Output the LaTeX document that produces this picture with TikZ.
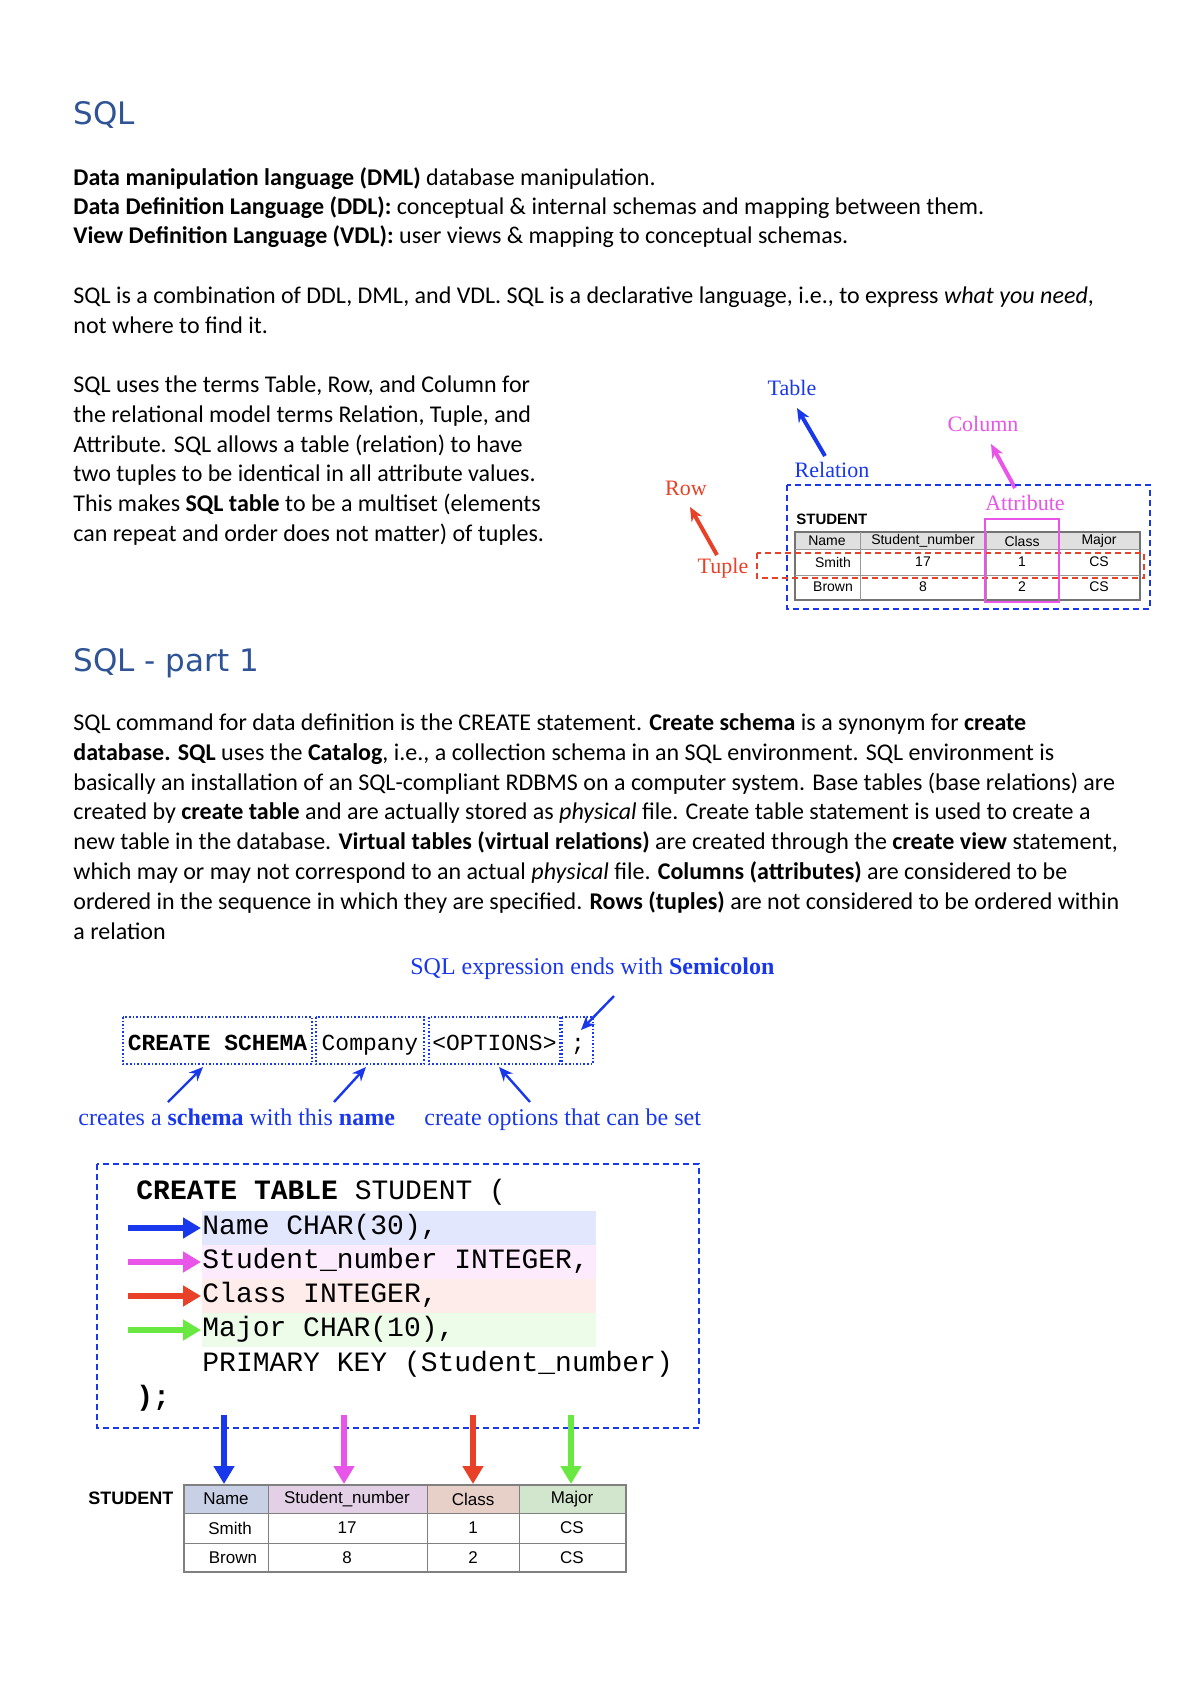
\documentclass[tikz,border=0pt]{standalone}
\usepackage{fontspec}
\setmainfont{Carlito}
\newfontfamily\headf{DejaVu Sans}
\newfontfamily\serf{Liberation Serif}
\newfontfamily\codef{Liberation Mono}
\newfontfamily\tabf{Liberation Sans}
\usetikzlibrary{arrows.meta}
\definecolor{hblue}{RGB}{46,84,150}
\definecolor{ab}{RGB}{25,55,235}
\definecolor{am}{RGB}{232,85,232}
\definecolor{ar}{RGB}{232,65,40}
\definecolor{ag}{RGB}{105,232,65}
\definecolor{hb}{RGB}{200,208,230}
\definecolor{hm}{RGB}{228,208,230}
\definecolor{hr}{RGB}{230,208,200}
\definecolor{hg}{RGB}{210,230,206}
\tikzset{
 txt/.style={anchor=base west,inner sep=0pt,font=\fontsize{12}{14}\selectfont},
 head/.style={anchor=base west,inner sep=0pt,font=\headf\fontsize{15.5}{18}\selectfont,text=hblue},
 lab/.style={inner sep=0pt,font=\serf\fontsize{11}{13}\selectfont},
 clab/.style={anchor=base west,inner sep=0pt,font=\serf\fontsize{12}{14}\selectfont,text=ab},
 thin arrow/.style={-{Stealth[length=7pt,width=6pt]},line width=1.2pt},
 fat arrow/.style={-{Triangle[length=9pt,width=10pt]},line width=3pt},
 cell/.style={inner sep=0pt,font=\tabf\fontsize{7}{8}\selectfont},
 cellb/.style={inner sep=0pt,font=\tabf\fontsize{8.5}{10}\selectfont},
 code/.style={anchor=base west,inner sep=0pt,font=\codef\fontsize{14}{16}\selectfont},
 scode/.style={anchor=base,inner sep=0pt,font=\codef\fontsize{11.5}{13}\selectfont},
 dbox/.style={draw=ab,densely dotted,line width=0.8pt},
}
\begin{document}
\begin{tikzpicture}[x=0.5pt,y=-0.5pt]
\useasboundingbox[fill=white] (0,0) rectangle (1200,1698);
% header section
\node[head] (h1) at (73,124) {SQL};
\node[txt] (l1) at (73,185) {\textbf{Data manipulation language (DML)} database manipulation.};
\node[txt] (l2) at (73,214) {\textbf{Data Definition Language (DDL):} conceptual \& internal schemas and mapping between them.};
\node[txt] (l3) at (73,243) {\textbf{View Definition Language (VDL):} user views \& mapping to conceptual schemas.};
\node[txt] (l4) at (73,303) {SQL is a combination of DDL, DML, and VDL. SQL is a declarative language, i.e., to express \textit{what you need},};
\node[txt] (l5) at (73,333) {not where to find it.};
\node[txt] (p1) at (73,392) {SQL uses the terms Table, Row, and Column for};
\node[txt] (p2) at (73,422) {the relational model terms Relation, Tuple, and};
\node[txt] (p3) at (73,452) {Attribute. SQL allows a table (relation) to have};
\node[txt] (p4) at (73,481) {two tuples to be identical in all attribute values.};
\node[txt] (p5) at (73,511) {This makes \textbf{SQL table} to be a multiset (elements};
\node[txt] (p6) at (73,541) {can repeat and order does not matter) of tuples.};
% right figure
\node[lab,text=ab] (tTable) at (792,388) {Table};
\node[lab,text=ab] (tRel) at (832,470) {Relation};
\node[lab,text=am] (tCol) at (983,424) {Column};
\node[lab,text=am] (tAttr) at (1025,503) {Attribute};
\node[lab,text=ar] (tRow) at (686,488) {Row};
\node[lab,text=ar] (tTup) at (723,568) {Tuple};
\coordinate (aT1) at (825,456); \coordinate (aT2) at (797,408);
\coordinate (aC1) at (1015,488); \coordinate (aC2) at (991,444);
\coordinate (aR1) at (717,555); \coordinate (aR2) at (690,507);
\draw[thin arrow,ab,line width=2pt] (aT1) -- (aT2);
\draw[thin arrow,am,line width=2pt] (aC1) -- (aC2);
\draw[thin arrow,ar,line width=2pt] (aR1) -- (aR2);
\draw[draw=ab,densely dashed,line width=1pt] (787,485) rectangle (1150,609);
\node[cellb,anchor=west,font=\tabf\bfseries\fontsize{7.5}{9}\selectfont] (st1) at (796,519) {STUDENT};
\fill[black!12] (795,532) rectangle (1140,549);
\draw[black!55,line width=0.8pt] (795,532) rectangle (1140,600);
\foreach \y in {549,575} \draw[black!40] (795,\y) -- (1140,\y);
\foreach \x in {860,986,1058} \draw[black!40] (\x,532) -- (\x,600);
\node[cell] at (827,541) {Name}; \node[cell] at (923,541) {Student\_number};
\node[cell] at (1022,541) {Class}; \node[cell] at (1099,541) {Major};
\node[cell] at (833,562) {Smith}; \node[cell] at (923,562) {17};
\node[cell] at (1022,562) {1}; \node[cell] at (1099,562) {CS};
\node[cell] at (833,587) {Brown}; \node[cell] at (923,587) {8};
\node[cell] at (1022,587) {2}; \node[cell] at (1099,587) {CS};
\draw[ar,densely dashed,line width=1pt] (757,553) rectangle (1144,578);
\draw[am,line width=1pt] (985,519) rectangle (1059,602);
% part 1
\node[head] (h2) at (73,671) {SQL - part 1};
\node[txt] (q1) at (73,730) {SQL command for data definition is the CREATE statement. \textbf{Create schema} is a synonym for \textbf{create}};
\node[txt] (q2) at (73,760) {\textbf{database. SQL} uses the \textbf{Catalog}, i.e., a collection schema in an SQL environment. SQL environment is};
\node[txt] (q3) at (73,790) {basically an installation of an SQL-compliant RDBMS on a computer system. Base tables (base relations) are};
\node[txt] (q4) at (73,819) {created by \textbf{create table} and are actually stored as \textit{physical} file. Create table statement is used to create a};
\node[txt] (q5) at (73,849) {new table in the database. \textbf{Virtual tables (virtual relations)} are created through the \textbf{create view} statement,};
\node[txt] (q6) at (73,879) {which may or may not correspond to an actual \textit{physical} file. \textbf{Columns (attributes)} are considered to be};
\node[txt] (q7) at (73,909) {ordered in the sequence in which they are specified. \textbf{Rows (tuples)} are not considered to be ordered within};
\node[txt] (q8) at (73,939) {a relation};
% create schema
\node[clab] (semi) at (410,974) {SQL expression ends with \textbf{Semicolon}};
\draw[dbox] (123,1017) rectangle (312,1064);
\draw[dbox] (316,1017) rectangle (424,1064);
\draw[dbox] (429,1017) rectangle (560,1064);
\draw[dbox] (562,1017) rectangle (593,1064);
\node[scode] (c1) at (217.5,1050) {\textbf{CREATE SCHEMA}};
\node[scode] (c2) at (370,1050) {Company};
\node[scode] (c3) at (494.5,1050) {<OPTIONS>};
\node[scode] (c4) at (578,1050) {;};
\coordinate (s1) at (614,996); \coordinate (s2) at (581,1030);
\draw[thin arrow,ab] (s1) -- (s2);
\coordinate (b1) at (168,1102); \coordinate (b2) at (203,1067);
\coordinate (b3) at (334,1102); \coordinate (b4) at (366,1067);
\coordinate (b5) at (530,1102); \coordinate (b6) at (499,1067);
\draw[thin arrow,ab] (b1) -- (b2);
\draw[thin arrow,ab] (b3) -- (b4);
\draw[thin arrow,ab] (b5) -- (b6);
\node[clab] (e1) at (78,1125) {creates a \textbf{schema} with this \textbf{name}};
\node[clab] (e2) at (424,1125) {create options that can be set};
% create table
\draw[draw=ab,densely dashed,line width=1.2pt] (97,1164) rectangle (699,1428);
\fill[ab!12] (202,1211) rectangle (596,1245);
\fill[am!12] (202,1245) rectangle (596,1279);
\fill[ar!10] (202,1279) rectangle (596,1313);
\fill[ag!12] (202,1313) rectangle (596,1347);
\node[code] (k0) at (136,1199) {\textbf{CREATE TABLE} STUDENT (};
\node[code] (k1) at (202,1234) {Name CHAR(30),};
\node[code] (k2) at (202,1268) {Student\_number INTEGER,};
\node[code] (k3) at (202,1302) {Class INTEGER,};
\node[code] (k4) at (202,1336) {Major CHAR(10),};
\node[code] (k5) at (202,1371) {PRIMARY KEY (Student\_number)};
\node[code] (k6) at (136,1405) {\textbf{);}};
\foreach \c/\y in {ab/1228,am/1262,ar/1296,ag/1330}
  \draw[fat arrow,\c] (128,\y) -- (201,\y);
% bottom table
\node[cellb,anchor=west,font=\tabf\bfseries\fontsize{9}{10}\selectfont] (st2) at (88,1498) {STUDENT};
\fill[hb] (184,1485) rectangle (268,1513);
\fill[hm] (268,1485) rectangle (427,1513);
\fill[hr] (427,1485) rectangle (519,1513);
\fill[hg] (519,1485) rectangle (626,1513);
\draw[black!50,line width=0.8pt] (184,1485) rectangle (626,1572);
\foreach \y in {1513,1543} \draw[black!50] (184,\y) -- (626,\y);
\foreach \x in {268,427,519} \draw[black!50] (\x,1485) -- (\x,1572);
\node[cellb] (n1) at (226,1499) {Name}; \node[cellb] (n2) at (347,1499) {Student\_number};
\node[cellb] (n3) at (473,1499) {Class}; \node[cellb] (n4) at (572,1499) {Major};
\node[cellb] at (230,1528) {Smith}; \node[cellb] at (347,1528) {17};
\node[cellb] at (473,1528) {1}; \node[cellb] at (572,1528) {CS};
\node[cellb] at (233,1558) {Brown}; \node[cellb] at (347,1558) {8};
\node[cellb] at (473,1558) {2}; \node[cellb] at (572,1558) {CS};
\coordinate (v1) at (224,1415); \coordinate (v2) at (344,1415);
\coordinate (v3) at (473,1415); \coordinate (v4) at (571,1415);
\draw[fat arrow,ab] (v1) -- (224,1484);
\draw[fat arrow,am] (v2) -- (344,1484);
\draw[fat arrow,ar] (v3) -- (473,1484);
\draw[fat arrow,ag] (v4) -- (571,1484);
\end{tikzpicture}
\end{document}
